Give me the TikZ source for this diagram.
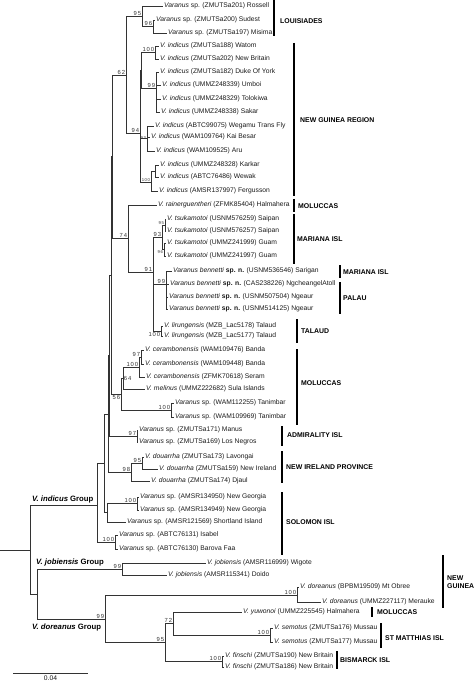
\documentclass[tikz,border=0pt]{standalone}
\usepackage{fontspec}
\setmainfont{Liberation Sans}
\newfontfamily\bsfont[LetterSpace=15]{Liberation Sans}
\newcommand{\varsp}{\textit{Varanus} sp.}
\newcommand{\vindi}{\textit{V. indicus}}
\newcommand{\vtsuk}{\textit{V. tsukamotoi}}
\newcommand{\vbenn}{\textit{Varanus bennetti} \textbf{sp. n.}}
\newcommand{\vlir}{\textit{V. lirungensis}}
\newcommand{\vcer}{\textit{V. cerambonensis}}
\newcommand{\vdou}{\textit{V. douarrha}}

\begin{document}
\begin{tikzpicture}[x=0.03cm, y=-0.03cm,
    br/.style={draw=black!80, line width=0.6pt},
    tip/.style={anchor=west, inner sep=0.85pt, text=black!90, font=\fontsize{5.75}{6.5}\selectfont},
    bs/.style={anchor=south east, inner sep=0.6pt, text=black!80, font=\bsfont\fontsize{5}{5.5}\selectfont},
    bsmall/.style={bs, font=\bsfont\fontsize{3.6}{4}\selectfont},
    bar/.style={line width=1.6pt},
    region/.style={anchor=west, inner sep=0pt, align=left, font=\fontsize{5.9}{6.8}\selectfont\bfseries},
    grp/.style={anchor=west, inner sep=0pt, font=\fontsize{6.6}{7}\selectfont\bfseries}]
  \useasboundingbox (0,0) rectangle (474,683);

  \coordinate (root) at (0,550);
  \coordinate (nR) at (30,550);
  \coordinate (nIG) at (97,505);
  \coordinate (nJD) at (37,594);
  \coordinate (nX) at (104,463);
  \coordinate (nY) at (108,414);
  \coordinate (nZ) at (109.5,355);
  \coordinate (nW) at (111,275);
  \coordinate (nV) at (112.5,156);
  \coordinate (n62) at (126,75);
  \coordinate (nLou) at (142,16);
  \coordinate (n96) at (153,26.5);
  \coordinate (nNG) at (140,133);
  \coordinate (nA) at (141.5,70);
  \coordinate (n100a) at (155,52.5);
  \coordinate (n99a) at (156,88);
  \coordinate (n93a) at (147,138);
  \coordinate (n100b) at (151,182);
  \coordinate (nKW) at (155,171);
  \coordinate (n74) at (128,238);
  \coordinate (n91) at (153,272);
  \coordinate (n93t) at (162,237);
  \coordinate (n95t) at (165,225);
  \coordinate (n96t) at (164,249.5);
  \coordinate (n99p) at (166,284);
  \coordinate (nTal) at (161,331);
  \coordinate (n56) at (121,394);
  \coordinate (n64) at (123,378);
  \coordinate (n100m) at (139,367);
  \coordinate (n97m) at (141,357);
  \coordinate (nTan) at (171,410);
  \coordinate (n97a) at (137,436);
  \coordinate (n98) at (131,472);
  \coordinate (n95n) at (142,463);
  \coordinate (nNGS) at (107,512);
  \coordinate (n100s) at (137,503);
  \coordinate (n100i) at (115,542);
  \coordinate (nJob) at (122,569);
  \coordinate (nDorG) at (105,619);
  \coordinate (nDor) at (297,595);
  \coordinate (n95d) at (165,642.5);
  \coordinate (n72) at (173,623.5);
  \coordinate (nSem) at (270,635);
  \coordinate (nFin) at (222,661.5);

  \node[tip] (t01) at (163,6) {\varsp{} (ZMUTSa201) Rossell};
  \node[tip] (t02) at (155,20) {\varsp{} (ZMUTSa200) Sudest};
  \node[tip] (t03) at (167,33) {\varsp{} (ZMUTSa197) Misima};
  \node[tip] (t04) at (159,46) {\vindi{} (ZMUTSa188) Watom};
  \node[tip] (t05) at (159,59) {\vindi{} (ZMUTSa202) New Britain};
  \node[tip] (t06) at (159,72) {\vindi{} (ZMUTSa182) Duke Of York};
  \node[tip] (t07) at (161,85) {\vindi{} (UMMZ248339) Umboi};
  \node[tip] (t08) at (161,99) {\vindi{} (UMMZ248329) Tolokiwa};
  \node[tip] (t09) at (160,112) {\vindi{} (UMMZ248338) Sakar};
  \node[tip] (t10) at (154,126) {\vindi{} (ABTC99075) Wegamu Trans Fly};
  \node[tip] (t11) at (150,137) {\vindi{} (WAM109764) Kai Besar};
  \node[tip] (t12) at (155,151) {\vindi{} (WAM109525) Aru};
  \node[tip] (t13) at (159,165) {\vindi{} (UMMZ248328) Karkar};
  \node[tip] (t14) at (159,177) {\vindi{} (ABTC76486) Wewak};
  \node[tip] (t15) at (158,191) {\vindi{} (AMSR137997) Fergusson};
  \node[tip] (t16) at (157,205) {\textit{V. rainerguentheri} (ZFMK85404) Halmahera};
  \node[tip] (t17) at (166,219) {\vtsuk{} (USNM576259) Saipan};
  \node[tip] (t18) at (166,231) {\vtsuk{} (USNM576257) Saipan};
  \node[tip] (t19) at (166,243) {\vtsuk{} (UMMZ241999) Guam};
  \node[tip] (t20) at (166,256) {\vtsuk{} (UMMZ241997) Guam};
  \node[tip] (t21) at (172,271) {\vbenn{} (USNM536546) Sarigan};
  \node[tip] (t22) at (169,284) {\vbenn{} (CAS238226) NgcheangelAtoll};
  \node[tip] (t23) at (168,297) {\vbenn{} (USNM507504) Ngeaur};
  \node[tip] (t24) at (168,309) {\vbenn{} (USNM514125) Ngeaur};
  \node[tip] (t25) at (163,326) {\vlir{} (MZB\_Lac5178) Talaud};
  \node[tip] (t26) at (163,336) {\vlir{} (MZB\_Lac5177) Talaud};
  \node[tip] (t27) at (144,350) {\vcer{} (WAM109476) Banda};
  \node[tip] (t28) at (144,364) {\vcer{} (WAM109448) Banda};
  \node[tip] (t29) at (145,377) {\vcer{} (ZFMK70618) Seram};
  \node[tip] (t30) at (145,389) {\textit{V. melinus} (UMMZ222682) Sula Islands};
  \node[tip] (t31) at (174,403) {\varsp{} (WAM112255) Tanimbar};
  \node[tip] (t32) at (174,417) {\varsp{} (WAM109969) Tanimbar};
  \node[tip] (t33) at (138,430) {\varsp{} (ZMUTSa171) Manus};
  \node[tip] (t34) at (138,442) {\varsp{} (ZMUTSa169) Los Negros};
  \node[tip] (t35) at (144,457) {\vdou{} (ZMUTSa173) Lavongai};
  \node[tip] (t36) at (158,469) {\vdou{} (ZMUTSa159) New Ireland};
  \node[tip] (t37) at (150,481) {\vdou{} (ZMUTSa174) Djaul};
  \node[tip] (t38) at (139,497) {\varsp{} (AMSR134950) New Georgia};
  \node[tip] (t39) at (139,510) {\varsp{} (AMSR134949) New Georgia};
  \node[tip] (t40) at (126,522) {\varsp{} (AMSR121569) Shortland Island};
  \node[tip] (t41) at (118,535) {\varsp{} (ABTC76131) Isabel};
  \node[tip] (t42) at (118,549) {\varsp{} (ABTC76130) Barova Faa};
  \node[tip] (t43) at (206,563) {\textit{V. jobiensis} (AMSR116999) Wigote};
  \node[tip] (t44) at (167,575) {\textit{V. jobiensis} (AMSR115341) Doido};
  \node[tip] (t45) at (299,587) {\textit{V. doreanus} (BPBM19509) Mt Obree};
  \node[tip] (t46) at (321,602) {\textit{V. doreanus} (UMMZ227117) Merauke};
  \node[tip] (t47) at (242,612) {\textit{V. yuwonoi} (UMMZ225545) Halmahera};
  \node[tip] (t48) at (273,628) {\textit{V. semotus} (ZMUTSa176) Mussau};
  \node[tip] (t49) at (273,642) {\textit{V. semotus} (ZMUTSa177) Mussau};
  \node[tip] (t50) at (224,656) {\textit{V. finschi} (ZMUTSa190) New Britain};
  \node[tip] (t51) at (224,667) {\textit{V. finschi} (ZMUTSa186) New Britain};

  \draw[br] (root) -- (nR);
  \draw[br] (nR) |- (nIG);
  \draw[br] (nR) |- (nJD);
  \draw[br] (nIG) |- (nX);
  \draw[br] (nIG) |- (n100i);
  \draw[br] (nX) |- (nY);
  \draw[br] (nX) |- (nNGS);
  \draw[br] (nY) |- (nZ);
  \draw[br] (nY) |- (n98);
  \draw[br] (nZ) |- (nW);
  \draw[br] (nZ) |- (n97a);
  \draw[br] (nW) |- (nV);
  \draw[br] (nW) |- (n56);
  \draw[br] (nV) |- (n62);
  \draw[br] (nV) |- (n74);
  \draw[br] (n62) |- (nLou);
  \draw[br] (n62) |- (nNG);
  \draw[br] (nLou) |- (t01.west);
  \draw[br] (nLou) |- (n96);
  \draw[br] (n96) |- (t02.west);
  \draw[br] (n96) |- (t03.west);
  \draw[br] (nNG) |- (nA);
  \draw[br] (nNG) |- (n93a);
  \draw[br] (nNG) |- (n100b);
  \draw[br] (nA) |- (n100a);
  \draw[br] (nA) |- (n99a);
  \draw[br] (n100a) |- (t04.west);
  \draw[br] (n100a) |- (t05.west);
  \draw[br] (n99a) |- (t06.west);
  \draw[br] (n99a) |- (t07.west);
  \draw[br] (n99a) |- (t08.west);
  \draw[br] (n99a) |- (t09.west);
  \draw[br] (n93a) |- (t10.west);
  \draw[br] (n93a) |- (t11.west);
  \draw[br] (n93a) |- (t12.west);
  \draw[br] (n100b) |- (nKW);
  \draw[br] (nKW) |- (t13.west);
  \draw[br] (nKW) |- (t14.west);
  \draw[br] (n100b) |- (t15.west);
  \draw[br] (n74) |- (t16.west);
  \draw[br] (n74) |- (n91);
  \draw[br] (n91) |- (n93t);
  \draw[br] (n91) |- (n99p);
  \draw[br] (n91) |- (nTal);
  \draw[br] (n93t) |- (n95t);
  \draw[br] (n93t) |- (n96t);
  \draw[br] (n95t) |- (t17.west);
  \draw[br] (n95t) |- (t18.west);
  \draw[br] (n96t) |- (t19.west);
  \draw[br] (n96t) |- (t20.west);
  \draw[br] (n99p) |- (t21.west);
  \draw[br] (n99p) |- (t22.west);
  \draw[br] (n99p) |- (t23.west);
  \draw[br] (n99p) |- (t24.west);
  \draw[br] (nTal) |- (t25.west);
  \draw[br] (nTal) |- (t26.west);
  \draw[br] (n56) |- (n64);
  \draw[br] (n56) |- (nTan);
  \draw[br] (n64) |- (n100m);
  \draw[br] (n64) |- (t30.west);
  \draw[br] (n100m) |- (n97m);
  \draw[br] (n100m) |- (t29.west);
  \draw[br] (n97m) |- (t27.west);
  \draw[br] (n97m) |- (t28.west);
  \draw[br] (nTan) |- (t31.west);
  \draw[br] (nTan) |- (t32.west);
  \draw[br] (n97a) |- (t33.west);
  \draw[br] (n97a) |- (t34.west);
  \draw[br] (n98) |- (n95n);
  \draw[br] (n98) |- (t37.west);
  \draw[br] (n95n) |- (t35.west);
  \draw[br] (n95n) |- (t36.west);
  \draw[br] (nNGS) |- (n100s);
  \draw[br] (nNGS) |- (t40.west);
  \draw[br] (n100s) |- (t38.west);
  \draw[br] (n100s) |- (t39.west);
  \draw[br] (n100i) |- (t41.west);
  \draw[br] (n100i) |- (t42.west);
  \draw[br] (nJD) |- (nJob);
  \draw[br] (nJD) |- (nDorG);
  \draw[br] (nJob) |- (t43.west);
  \draw[br] (nJob) |- (t44.west);
  \draw[br] (nDorG) |- (nDor);
  \draw[br] (nDorG) |- (n95d);
  \draw[br] (nDor) |- (t45.west);
  \draw[br] (nDor) |- (t46.west);
  \draw[br] (n95d) |- (n72);
  \draw[br] (n95d) |- (nFin);
  \draw[br] (n72) |- (t47.west);
  \draw[br] (n72) |- (nSem);
  \draw[br] (nSem) |- (t48.west);
  \draw[br] (nSem) |- (t49.west);
  \draw[br] (nFin) |- (t50.west);
  \draw[br] (nFin) |- (t51.west);

  \node[bs] (b95l) at (nLou) {95};
  \node[bs] (b96) at (n96) {96};
  \node[bs] (b62) at (n62) {62};
  \node[bs] (b100a) at (n100a) {100};
  \node[bs] (b99a) at (n99a) {99};
  \node[bs] (b94) at (nNG) {94};
  \node[bsmall, anchor=east] (b93a) at (n93a) {93};
  \node[bsmall] (b100b) at (n100b) {100};
  \node[bs] (b74) at (n74) {74};
  \node[bs] (b91) at (n91) {91};
  \node[bs] (b93t) at (n93t) {93};
  \node[bsmall] (b95t) at (n95t) {95};
  \node[bsmall, anchor=north east] (b96t) at (n96t) {96};
  \node[bs] (b99p) at (n99p) {99};
  \node[bs, anchor=north east] (b100t) at (nTal) {100};
  \node[bs] (b97m) at (n97m) {97};
  \node[bs] (b100m) at (n100m) {100};
  \node[bs, anchor=west] (b64) at (n64) {64};
  \node[bs, anchor=north east] (b56) at (n56) {56};
  \node[bs] (b100n) at (nTan) {100};
  \node[bs] (b97a) at (n97a) {97};
  \node[bs] (b95n) at (n95n) {95};
  \node[bs] (b98) at (n98) {98};
  \node[bs] (b100s) at (n100s) {100};
  \node[bs] (b100i) at (n100i) {100};
  \node[bs] (b99j) at (nJob) {99};
  \node[bs] (b99d) at (nDorG) {99};
  \node[bs] (b100d) at (nDor) {100};
  \node[bs] (b95d) at (n95d) {95};
  \node[bs] (b72) at (n72) {72};
  \node[bs] (b100e) at (nSem) {100};
  \node[bs] (b100f) at (nFin) {100};

  \draw[bar] (274,0.5) -- (274,36);
  \node[region] (rLou) at (280,21) {LOUISIADES};
  \draw[bar] (294,43) -- (294,196);
  \node[region] (rNGR) at (300,120) {NEW GUINEA REGION};
  \draw[bar] (294,199) -- (294,212);
  \node[region] (rMol1) at (298,206) {MOLUCCAS};
  \draw[bar] (294,214) -- (294,264);
  \node[region] (rMar1) at (297,239) {MARIANA ISL};
  \draw[bar] (340,265) -- (340,278);
  \node[region] (rMar2) at (343,272) {MARIANA ISL};
  \draw[bar] (340,282) -- (340,314);
  \node[region] (rPal) at (343,298) {PALAU};
  \draw[bar] (297,319) -- (297,343);
  \node[region] (rTal) at (301,331) {TALAUD};
  \draw[bar] (297,349) -- (297,425);
  \node[region] (rMol2) at (301,383) {MOLUCCAS};
  \draw[bar] (282,426) -- (282,446);
  \node[region] (rAdm) at (287,435) {ADMIRALITY ISL};
  \draw[bar] (282,451) -- (282,483);
  \node[region] (rNIP) at (286,467) {NEW IRELAND PROVINCE};
  \draw[bar] (282,492) -- (282,555);
  \node[region] (rSol) at (286,522) {SOLOMON ISL};
  \draw[bar] (443,555) -- (443,608);
  \node[region] (rNG) at (447,582) {NEW\\GUINEA};
  \draw[bar] (372,607) -- (372,617);
  \node[region] (rMol3) at (377,612) {MOLUCCAS};
  \draw[bar] (381,623) -- (381,648);
  \node[region] (rStM) at (385,638) {ST MATTHIAS ISL};
  \draw[bar] (337,651) -- (337,669);
  \node[region] (rBis) at (340,660) {BISMARCK ISL};

  \node[grp] (gInd) at (32,499) {\textit{V. indicus} Group};
  \node[grp] (gJob) at (36,562) {\textit{V. jobiensis} Group};
  \node[grp] (gDor) at (32,627) {\textit{V. doreanus} Group};

  \coordinate (sb1) at (13,673);
  \coordinate (sb2) at (88,673);
  \draw[br] (sb1) -- node[tip, anchor=north, pos=0.5, yshift=-1pt] (sbl) {0.04} (sb2);
\end{tikzpicture}
\end{document}
